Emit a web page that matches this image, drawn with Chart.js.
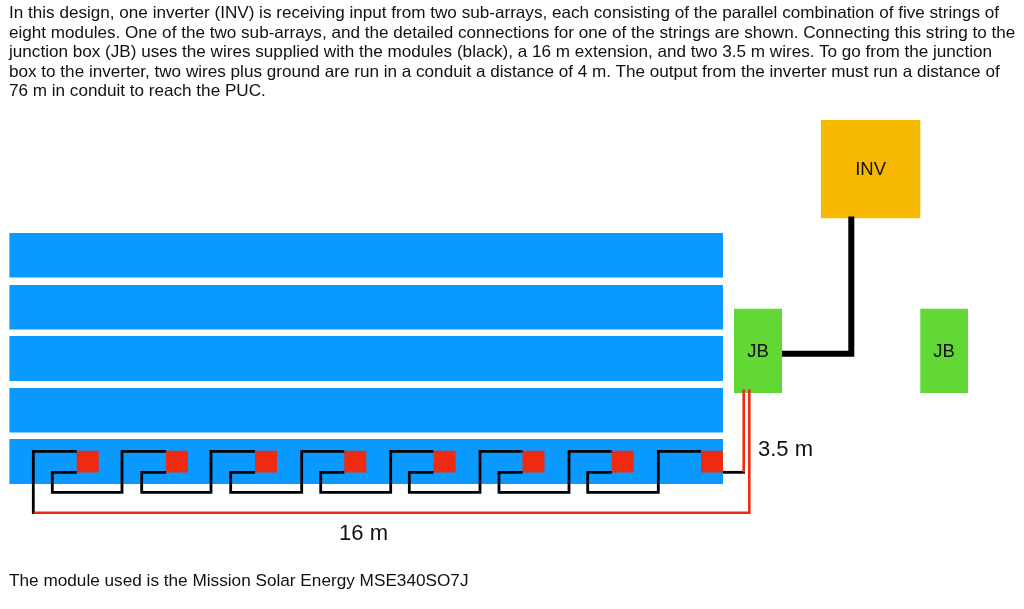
<!DOCTYPE html>
<html>
<head>
<meta charset="utf-8">
<title>String wiring</title>
<script src="https://cdn.jsdelivr.net/npm/chart.js@4"></script>
<style>
	html, body { margin: 0; padding: 0; background: #fff; }
	#wrap { position: relative; width: 1024px; height: 609px; overflow: hidden; }
	#myChart { position: absolute; left: 0; top: 0; }
	.copy {
		position: absolute;
		left: 9px;
		font-family: 'Liberation Sans', Arial, sans-serif;
		font-size: 17.12px;
		line-height: 19.5px;
		color: #111;
		white-space: nowrap;
	}
</style>
</head>
<body>
<div id="wrap">
	<canvas id="myChart" width="1024" height="609"></canvas>
	<div class="copy" style="top: 3px">
		In this design, one inverter (INV) is receiving input from two sub-arrays, each consisting of the parallel combination of five strings of<br>
		eight modules. One of the two sub-arrays, and the detailed connections for one of the strings are shown. Connecting this string to the<br>
		junction box (JB) uses the wires supplied with the modules (black), a 16 m extension, and two 3.5 m wires. To go from the junction<br>
		box to the inverter, two wires plus ground are run in a conduit a distance of 4 m. The output from the inverter must run a distance of<br>
		76 m in conduit to reach the PUC.
	</div>
	<div class="copy" style="top: 571px; font-size: 17.2px">The module used is the Mission Solar Energy MSE340SO7J</div>
</div>
<script>
const stripTops = [233, 285, 336, 388, 439]
const stripBottoms = [277.5, 329.5, 381, 432.5, 484]
const moduleLefts = [76.7, 166, 255, 344.3, 433.5, 522.5, 611.7, 701]
const outerWires = [33.3, 122, 211, 301.7, 390.7, 480, 569, 658.3]
const innerWires = [52.3, 141.7, 230.7, 320.7, 409.3, 499, 587.7]
const boxes = [
	['INV', 821, 920.3, 120, 218.3],
	['JB', 734, 782, 308.7, 393],
	['JB', 920.3, 968, 308.7, 393],
]
const labels = [
	['3.5 m', 785.5, 449.5],
	['16 m', 363.5, 534],
]

const BLUE = '#0A99FF'
const RED = '#EE2A10'
const GREEN = '#61D836'
const YELLOW = '#F8BA00'

function rect(x0, x1, y0, y1, color) {
	return {
		type: 'line',
		data: [
			{ x: x0, y: y0 },
			{ x: x0, y: y1 },
			{ x: x1, y: y1 },
			{ x: x1, y: y0 },
		],
		fill: 'shape',
		backgroundColor: color,
		borderWidth: 0,
		pointRadius: 0,
	}
}

function wire(points, color, width) {
	return {
		type: 'line',
		data: points.map((p) => ({ x: p[0], y: p[1] })),
		fill: false,
		borderColor: color,
		borderWidth: width,
		borderJoinStyle: 'miter',
		pointRadius: 0,
	}
}

const datasets = []

stripTops.forEach((top, i) => {
	datasets.push(rect(9.4, 723, top, stripBottoms[i], BLUE))
})

moduleLefts.forEach((left) => {
	datasets.push(rect(left, left + 22, 450.7, 472.5, RED))
})

datasets.push(rect(boxes[0][1], boxes[0][2], boxes[0][3], boxes[0][4], YELLOW))
datasets.push(rect(boxes[1][1], boxes[1][2], boxes[1][3], boxes[1][4], GREEN))
datasets.push(rect(boxes[2][1], boxes[2][2], boxes[2][3], boxes[2][4], GREEN))

/* black module leads */
datasets.push(wire([[33.3, 514], [33.3, 451.3], [moduleLefts[0], 451.3]], '#000', 2.8))
innerWires.forEach((x, i) => {
	datasets.push(wire([
		[moduleLefts[i], 472.3],
		[x, 472.3],
		[x, 492.3],
		[outerWires[i + 1], 492.3],
		[outerWires[i + 1], 451.3],
		[moduleLefts[i + 1], 451.3],
	], '#000', 2.8))
})
datasets.push(wire([[723, 472.3], [745, 472.3]], '#000', 2.8))

/* red home runs */
datasets.push(wire([[743.7, 472.3], [743.7, 389.5]], RED, 2.6))
datasets.push(wire([[749.3, 389.5], [749.3, 512.7], [34, 512.7]], RED, 2.6))

/* conduit from JB to inverter */
datasets.push(wire([[782, 353.7], [851.3, 353.7], [851.3, 216.5]], '#000', 6))

// first dataset is painted last in Chart.js
datasets.reverse()

const textLabels = {
	id: 'textLabels',
	afterDatasetsDraw(chart) {
		const { ctx, scales } = chart
		ctx.save()
		ctx.fillStyle = '#111'
		ctx.textAlign = 'center'
		ctx.textBaseline = 'middle'
		ctx.font = '18.5px "Liberation Sans", Arial, sans-serif'
		boxes.forEach((box) => {
			const x = scales.x.getPixelForValue((box[1] + box[2]) / 2)
			const y = scales.y.getPixelForValue((box[3] + box[4]) / 2 + 1)
			ctx.fillText(box[0], x, y)
		})
		ctx.font = '22px "Liberation Sans", Arial, sans-serif'
		labels.forEach((label) => {
			ctx.fillText(label[0], scales.x.getPixelForValue(label[1]), scales.y.getPixelForValue(label[2]))
		})
		ctx.restore()
	},
}

new Chart(document.getElementById('myChart'), {
	type: 'line',
	data: { datasets: datasets },
	plugins: [textLabels],
	options: {
		responsive: false,
		animation: false,
		parsing: false,
		normalized: true,
		layout: { padding: 0 },
		scales: {
			x: { type: 'linear', min: 0, max: 1024, display: false },
			y: { type: 'linear', min: 0, max: 609, reverse: true, display: false },
		},
		plugins: {
			legend: { display: false },
			tooltip: { enabled: false },
		},
	},
})
</script>
</body>
</html>
